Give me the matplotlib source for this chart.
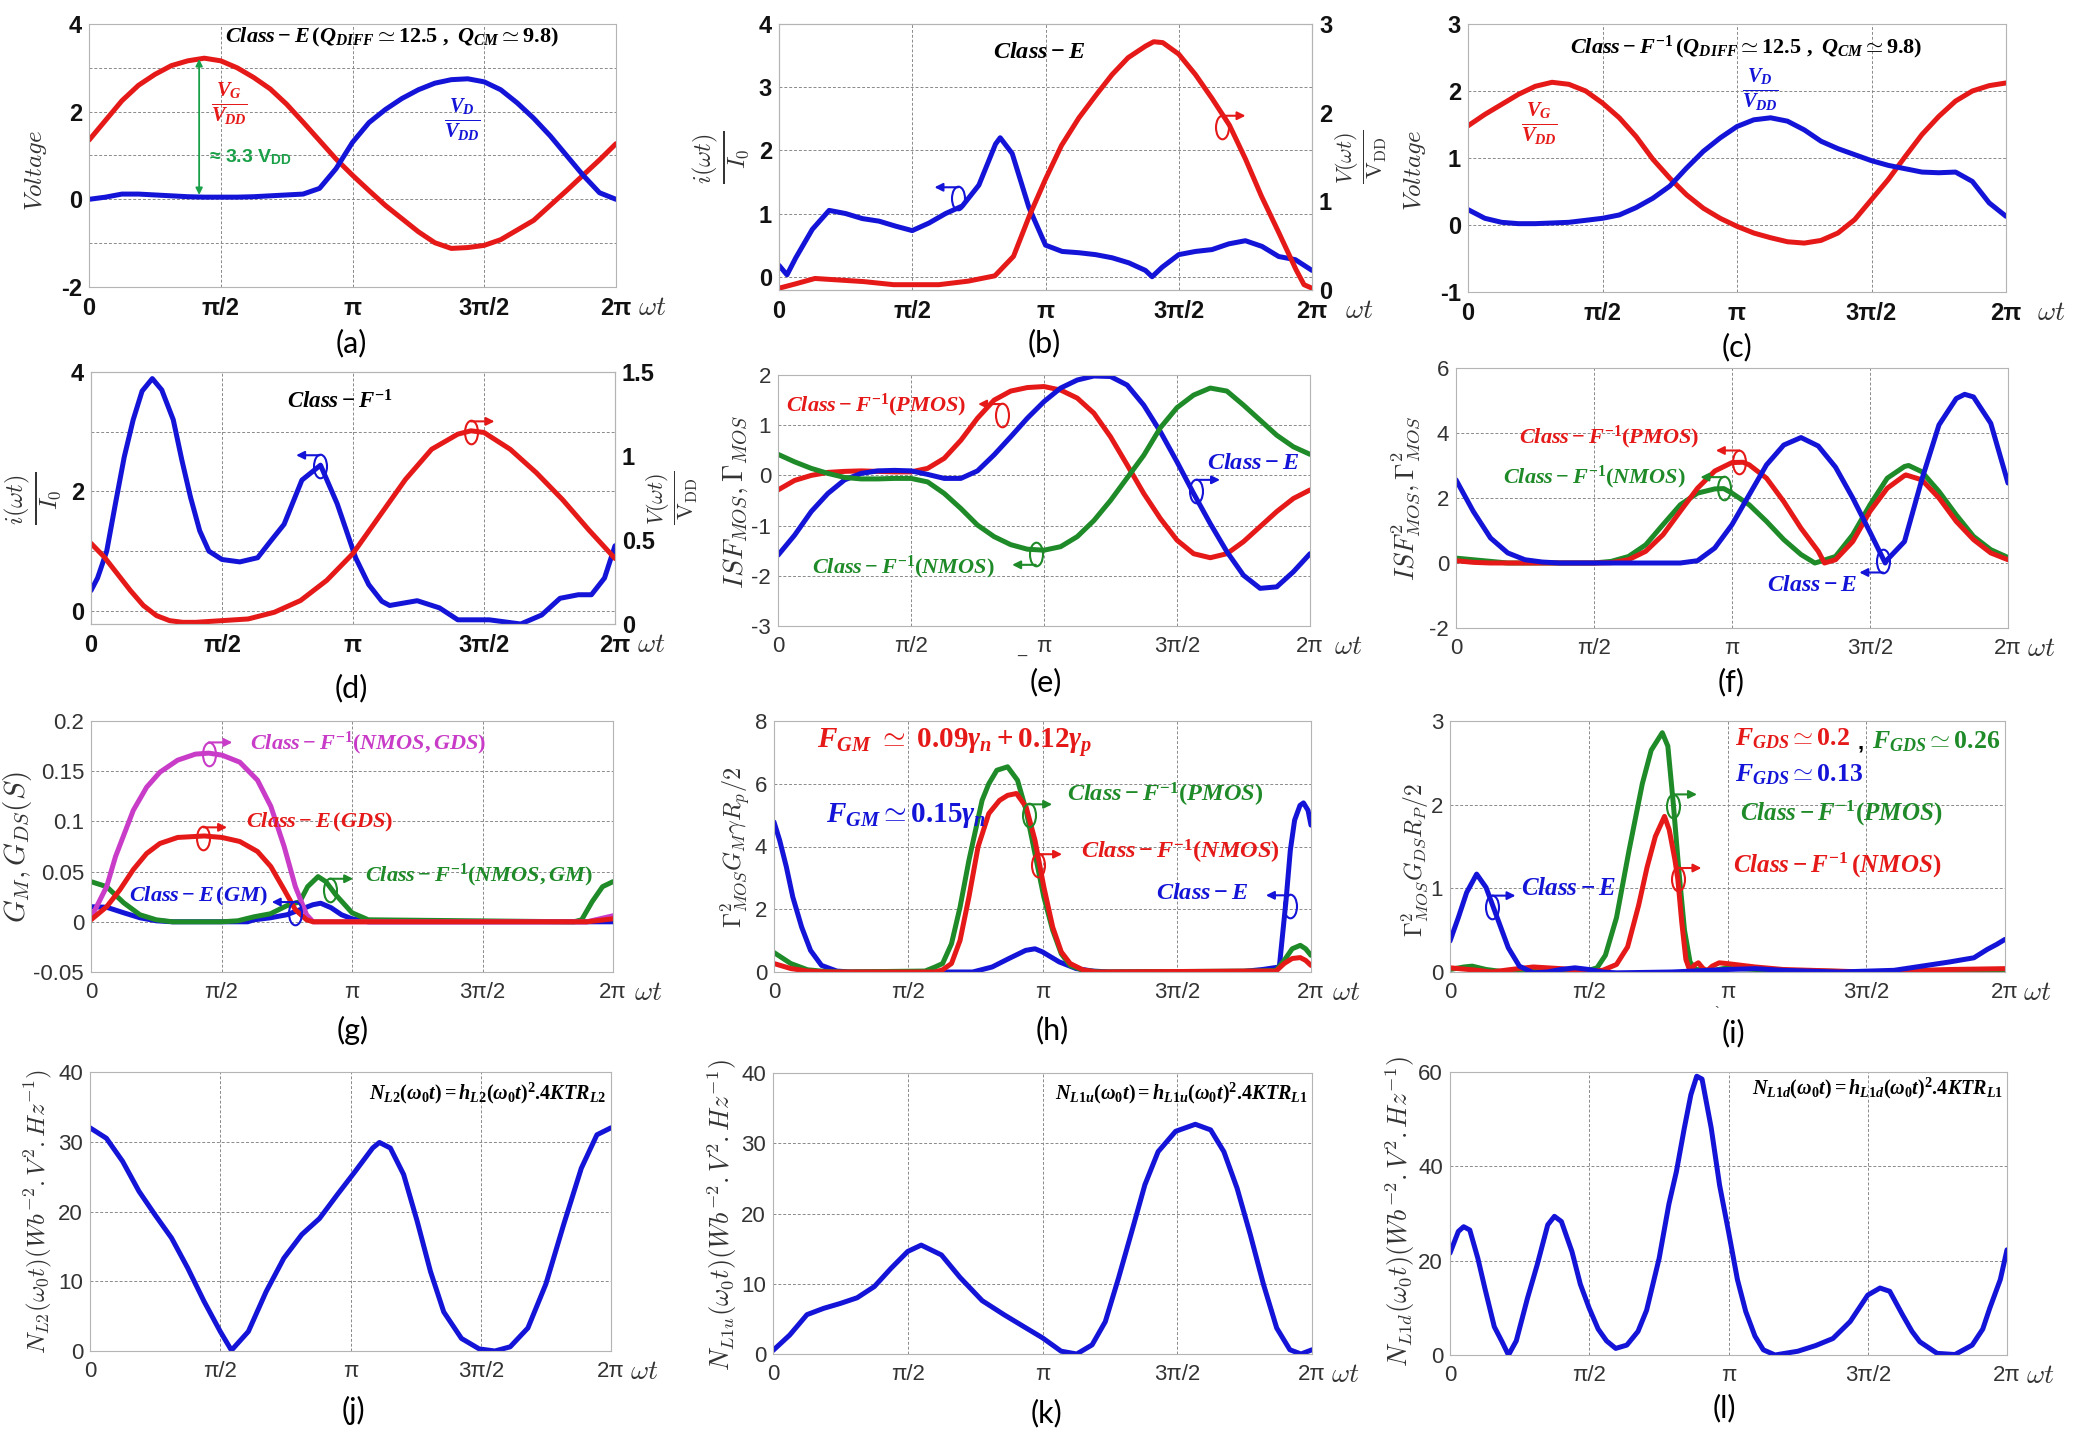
import numpy as np
import matplotlib.pyplot as plt
from matplotlib.path import Path
from matplotlib.transforms import Affine2D, offset_copy

plt.rcParams['font.family'] = ['Liberation Sans', 'DejaVu Sans']
plt.rcParams['mathtext.fontset'] = 'custom'
plt.rcParams['mathtext.rm'] = 'Liberation Serif:bold'
plt.rcParams['mathtext.it'] = 'Liberation Serif:italic:bold'
plt.rcParams['mathtext.bf'] = 'Liberation Serif:bold'

RED = '#e61919'
BLUE = '#1414d8'
GREEN = '#1e8a28'
MAG = '#c83cc8'

# x positions are in units of pi (0 .. 2pi)
G33 = np.linspace(0, 2, 33)

# (a) class-E voltages
a_vg = [1.35, 1.8, 2.25, 2.6, 2.85, 3.05, 3.16, 3.22, 3.16, 3.0, 2.78, 2.52, 2.17, 1.76, 1.34, 0.92, 0.55,
        0.2, -0.14, -0.44, -0.74, -0.99, -1.12, -1.1, -1.05, -0.92, -0.7, -0.48, -0.14, 0.2, 0.55, 0.9, 1.27]
a_vd = [0.0, 0.05, 0.12, 0.12, 0.1, 0.08, 0.06, 0.05, 0.05, 0.05, 0.06, 0.08, 0.1, 0.12, 0.25, 0.7, 1.3,
        1.75, 2.05, 2.3, 2.5, 2.65, 2.73, 2.75, 2.68, 2.5, 2.2, 1.85, 1.45, 1.0, 0.55, 0.15, 0.0]

# (b) class-E current / voltage
b_i_x = [0, .03, .063, .125, .188, .25, .313, .375, .438, .5, .563, .625, .688, .75, .8125, .83, .875, .9375,
         1.0, 1.0625, 1.125, 1.1875, 1.25, 1.3125, 1.375, 1.4, 1.4375, 1.5, 1.5625, 1.625, 1.6875, 1.75,
         1.8125, 1.875, 1.9375, 2.0]
b_i = [0.18, 0.03, 0.3, 0.75, 1.05, 1.0, 0.92, 0.88, 0.8, 0.73, 0.85, 1.0, 1.12, 1.45, 2.1, 2.2, 1.95, 1.1,
       0.5, 0.4, 0.38, 0.35, 0.3, 0.22, 0.1, 0.0, 0.15, 0.35, 0.4, 0.43, 0.52, 0.57, 0.48, 0.32, 0.27, 0.1]
b_v_x = [0, .063, .135, .317, .43, .6, .71, .81, .88, .94, 1.0, 1.06, 1.125, 1.19, 1.25, 1.31, 1.375, 1.406,
         1.44, 1.5, 1.5625, 1.625, 1.69, 1.75, 1.81, 1.875, 1.94, 1.97, 2.0]
b_v = [0.02, 0.07, 0.13, 0.095, 0.06, 0.06, 0.1, 0.16, 0.38, 0.84, 1.25, 1.63, 1.94, 2.2, 2.43, 2.62, 2.75,
       2.8, 2.79, 2.66, 2.43, 2.16, 1.86, 1.48, 1.06, 0.65, 0.23, 0.06, 0.02]

# (c) class-F^-1 voltages
c_vg = [1.48, 1.65, 1.8, 1.95, 2.07, 2.13, 2.1, 2.0, 1.82, 1.6, 1.32, 0.98, 0.7, 0.45, 0.25, 0.1, -0.02,
        -0.12, -0.19, -0.25, -0.27, -0.23, -0.12, 0.08, 0.38, 0.68, 1.02, 1.35, 1.62, 1.85, 2.0, 2.08, 2.12]
c_vd = [0.23, 0.1, 0.04, 0.02, 0.02, 0.03, 0.04, 0.07, 0.1, 0.15, 0.26, 0.4, 0.58, 0.85, 1.1, 1.3, 1.47,
        1.57, 1.6, 1.55, 1.42, 1.25, 1.14, 1.05, 0.96, 0.89, 0.84, 0.79, 0.78, 0.79, 0.65, 0.33, 0.13]

# (d) class-F^-1 current / voltage
d_i_x = [0, .025, .06, .093, .127, .161, .195, .234, .27, .314, .347, .38, .415, .45, .5, .568, .636, .686,
         .737, .805, .876, .94, 1.01, 1.06, 1.11, 1.14, 1.245, 1.33, 1.4, 1.52, 1.64, 1.72, 1.79, 1.86, 1.91,
         1.96, 2.0]
d_i = [0.34, 0.55, 1.0, 1.79, 2.58, 3.2, 3.68, 3.89, 3.7, 3.2, 2.52, 1.9, 1.34, 1.0, 0.86, 0.82, 0.89, 1.17,
       1.45, 2.19, 2.44, 1.79, 0.89, 0.44, 0.16, 0.09, 0.17, 0.05, -0.15, -0.15, -0.22, -0.07, 0.21, 0.27,
       0.27, 0.55, 1.09]
d_v_x = [0, .05, .1, .15, .2, .25, .3, .35, .4, .5, .6, .7, .8, .9, 1.0, 1.1, 1.2, 1.3, 1.4, 1.45, 1.5, 1.6,
         1.7, 1.8, 1.9, 2.0]
d_v = [0.48, 0.4, 0.3, 0.2, 0.11, 0.05, 0.02, 0.01, 0.01, 0.02, 0.03, 0.07, 0.14, 0.26, 0.42, 0.64, 0.86, 1.04,
       1.13, 1.15, 1.14, 1.04, 0.9, 0.74, 0.56, 0.39]

# (e) ISF
e_pmos = [-0.29, -0.1, 0.0, 0.06, 0.08, 0.09, 0.08, 0.07, 0.07, 0.14, 0.34, 0.7, 1.14, 1.5, 1.68, 1.75, 1.77,
          1.7, 1.54, 1.24, 0.77, 0.21, -0.36, -0.86, -1.29, -1.56, -1.64, -1.56, -1.32, -1.02, -0.72, -0.46, -0.29]
e_cle = [-1.59, -1.19, -0.72, -0.36, -0.09, 0.04, 0.09, 0.1, 0.09, 0.02, -0.06, -0.06, 0.09, 0.41, 0.77, 1.14,
         1.47, 1.74, 1.9, 1.98, 1.97, 1.8, 1.4, 0.87, 0.27, -0.36, -0.96, -1.52, -1.99, -2.25, -2.22, -1.92, -1.56]
e_nmos = [0.42, 0.27, 0.14, 0.04, -0.04, -0.07, -0.07, -0.06, -0.06, -0.13, -0.36, -0.66, -0.99, -1.22, -1.38,
          -1.47, -1.49, -1.42, -1.22, -0.9, -0.5, -0.05, 0.4, 0.95, 1.35, 1.6, 1.74, 1.68, 1.4, 1.1, 0.8, 0.57, 0.42]

# (f) ISF^2 (grid values plus a few extra read points at extrema)
f_cle = [2.56, 1.59, 0.77, 0.31, 0.1, 0.03, 0, 0, 0, 0, 0, 0, 0, 0, 0.07, 0.46, 1.18, 2.1, 3.02, 3.63, 3.86,
         3.6, 2.95, 2.0, 0.95, 0.1, 0.66, 2.56, 4.25, 5.06, 5.11, 4.3, 2.46]
f_cle_extra = [(1.555, 0.0), (1.843, 5.19)]
f_pmos = [0.07, 0.02, 0, 0, 0, 0, 0, 0, 0, 0.01, 0.1, 0.36, 0.87, 1.59, 2.3, 2.83, 3.09, 3.02, 2.61, 1.89,
          1.07, 0.36, 0.1, 0.66, 1.59, 2.3, 2.69, 2.56, 2.0, 1.28, 0.72, 0.31, 0.1]
f_pmos_extra = [(1.04, 3.1), (1.335, 0.0), (1.63, 2.71)]
f_nmos = [0.15, 0.1, 0.05, 0, 0, 0, 0, 0, 0, 0.05, 0.2, 0.56, 1.18, 1.79, 2.15, 2.28, 2.15, 1.79, 1.28, 0.72,
          0.26, 0.03, 0.2, 0.87, 1.79, 2.61, 2.97, 2.81, 2.2, 1.48, 0.82, 0.41, 0.17]
f_nmos_extra = [(0.97, 2.29), (1.3, 0.0), (1.64, 3.0)]

# (g) conductances
g_gds_f_x = [0, .06, .094, .128, .162, .213, .264, .332, .4, .451, .502, .57, .638, .689, .74, .783, .826,
             .851, 1.9, 1.95, 2.0]
g_gds_f = [0.004, 0.035, 0.065, 0.088, 0.111, 0.134, 0.149, 0.161, 0.167, 0.168, 0.166, 0.159, 0.141, 0.115,
           0.075, 0.035, 0.007, 0.0, 0.0, 0.003, 0.006]
g_gds_e_x = [0, .06, .111, .162, .213, .264, .332, .434, .502, .57, .638, .689, .74, .783, .826, .851, 1.9, 2.0]
g_gds_e = [0.002, 0.015, 0.032, 0.052, 0.068, 0.078, 0.084, 0.0855, 0.084, 0.08, 0.07, 0.055, 0.032, 0.012,
           0.002, 0.0, 0.0, 0.003]
g_gm_f_x = [0, .06, .125, .1875, .25, .3125, .5, .5625, .625, .6875, .75, .8, .83, .87, .9, .9375, 1.0, 1.0625,
            1.85, 1.88, 1.92, 1.96, 2.0]
g_gm_f = [0.04, 0.035, 0.019, 0.007, 0.002, 0, 0, 0.001, 0.005, 0.008, 0.016, 0.02, 0.035, 0.045, 0.04, 0.027,
          0.009, 0.002, 0, 0.002, 0.02, 0.035, 0.04]
g_gm_e_x = [0, .06, .125, .1875, .25, .3125, .6, .625, .6875, .75, .8, .85, .88, .92, .96, 1.0, 1.0625, 2.0]
g_gm_e = [0.015, 0.0145, 0.009, 0.004, 0.001, 0, 0, 0.002, 0.004, 0.007, 0.012, 0.017, 0.0185, 0.014, 0.007,
          0.003, 0, 0]

# (h) GM noise
h_e_x = [0, .021, .046, .07, .103, .136, .177, .234, .284, .74, .8125, .875, .9375, .972, 1.0, 1.0625, 1.125,
         1.1875, 1.25, 1.75, 1.82, 1.882, 1.907, 1.923, 1.939, 1.959, 1.972, 1.989, 2.0]
h_e = [4.78, 4.2, 3.35, 2.39, 1.43, 0.69, 0.21, 0.03, 0, 0, 0.16, 0.43, 0.69, 0.74, 0.64, 0.32, 0.11, 0.03, 0,
       0.02, 0.08, 0.16, 2.28, 3.88, 4.84, 5.31, 5.39, 5.15, 4.68]
h_p_x = [0, .0625, .125, .1875, .25, .5625, .6, .628, .661, .693, .726, .775, .8, .83, .87, .907, .939, .972,
         1.005, 1.038, 1.07, 1.103, 1.152, 1.218, 1.8, 1.87, 1.9, 1.93, 1.96, 1.98, 2.0]
h_p = [0.62, 0.27, 0.07, 0.02, 0, 0.03, 0.16, 0.27, 0.9, 2.07, 3.56, 5.47, 6.0, 6.43, 6.54, 6.11, 5.15, 3.77,
       2.39, 1.33, 0.58, 0.21, 0.05, 0, 0.03, 0.05, 0.37, 0.74, 0.85, 0.74, 0.53]
h_n_x = [0, .0625, .125, .2, .6, .628, .661, .693, .726, .76, .8, .84, .87, .903, .939, .972, 1.005, 1.038,
         1.07, 1.103, 1.15, 1.2, 1.8, 1.87, 1.9, 1.93, 1.96, 1.98, 2.0]
h_n = [0.27, 0.11, 0.03, 0, 0, 0.07, 0.27, 1.01, 2.39, 3.99, 5.05, 5.47, 5.63, 5.69, 5.26, 4.2, 2.71, 1.43,
       0.64, 0.27, 0.07, 0, 0.03, 0.03, 0.27, 0.43, 0.46, 0.37, 0.21]

# (i) GDS noise
i_p_x = [0, .05, .08, .13, .2, .3, .4, .5, .53, .56, .6, .645, .693, .725, .765, .785, .805, .825, .845, .865,
         .885, .95, 1.0, 1.1, 1.2, 1.5, 2.0]
i_p = [0.03, 0.06, 0.07, 0.03, 0, 0.01, 0.02, 0.02, 0.05, 0.2, 0.65, 1.45, 2.25, 2.65, 2.86, 2.7, 2.0, 1.2,
       0.5, 0.12, 0.03, 0.02, 0.05, 0.03, 0.02, 0.0, 0.03]
i_n_x = [0, .1, .15, .22, .3, .4, .5, .55, .6, .64, .68, .71, .74, .773, .79, .81, .821, .835, .85, .865, .88,
         .895, .91, .925, .945, .97, 1.0, 1.05, 1.1, 1.2, 1.5, 1.8, 2.0]
i_n = [0.05, 0.02, 0.0, 0.03, 0.06, 0.04, 0.01, 0.02, 0.09, 0.3, 0.8, 1.25, 1.62, 1.86, 1.7, 1.35, 1.11, 0.6,
       0.15, 0.01, 0.08, 0.11, 0.05, 0.01, 0.07, 0.11, 0.1, 0.08, 0.06, 0.03, 0.0, 0.03, 0.04]
i_e_x = [0, .03, .06, .096, .13, .17, .21, .25, .3, .35, .4, .45, .5, .55, .6, .8, 1.0, 1.1, 1.2, 1.4, 1.6,
         1.7, 1.8, 1.888, 1.936, 1.97, 2.0]
i_e = [0.37, 0.65, 0.95, 1.17, 1.01, 0.65, 0.29, 0.07, -0.01, 0.0, 0.03, 0.05, 0.03, 0.0, -0.01, 0.0, 0.03,
       0.04, 0.02, 0.0, 0.02, 0.07, 0.12, 0.17, 0.27, 0.33, 0.39]

# (j), (k), (l) inductor noise
j_x = [0, .063, .125, .188, .25, .313, .375, .438, .5, .543, .608, .676, .744, .813, .881, .949, 1.017, 1.085,
       1.111, 1.153, 1.204, 1.256, 1.307, 1.358, 1.426, 1.494, 1.554, 1.613, 1.681, 1.75, 1.818, 1.886, 1.946, 2.0]
j_y = [32, 30.5, 27.2, 22.9, 19.5, 16.2, 11.9, 7.1, 2.8, 0.1, 2.8, 8.5, 13.3, 16.7, 19.0, 22.4, 25.7, 29.1,
       29.9, 29.1, 25.3, 18.6, 11.4, 5.6, 1.8, 0.3, 0.0, 0.6, 3.3, 9.6, 18.1, 26.2, 31.0, 32.0]
k_x = [0, .062, .126, .188, .25, .312, .376, .438, .5, .55, .625, .694, .776, .857, .939, 1.0, 1.069, 1.127,
       1.184, 1.233, 1.282, 1.331, 1.38, 1.429, 1.494, 1.567, 1.624, 1.673, 1.722, 1.771, 1.82, 1.869, 1.918,
       1.959, 2.0]
k_y = [0.5, 2.7, 5.6, 6.5, 7.2, 8.0, 9.6, 12.2, 14.6, 15.5, 14.1, 10.9, 7.6, 5.6, 3.7, 2.3, 0.4, 0.0, 1.3, 4.6,
       10.8, 17.4, 24.1, 28.8, 31.7, 32.7, 31.9, 28.8, 23.6, 17.0, 9.9, 3.7, 0.6, 0.0, 0.6]
l_x = [0, .03, .049, .071, .1, .125, .159, .187, .21, .238, .278, .313, .351, .375, .4, .438, .468, .5, .532,
       .562, .595, .635, .675, .706, .751, .786, .813, .841, .865, .886, .905, .938, .968, 1.0, 1.032, 1.062,
       1.095, 1.125, 1.167, 1.249, 1.313, 1.375, 1.437, 1.5, 1.544, 1.579, 1.625, 1.659, 1.687, 1.749, 1.813,
       1.875, 1.913, 1.938, 1.976, 2.0]
l_y = [21.6, 26.2, 27.2, 26.5, 20.5, 14.2, 6.0, 2.8, 0.0, 3.0, 12.0, 19.1, 27.6, 29.4, 28.3, 21.9, 15.0, 9.9,
       5.5, 3.0, 1.4, 2.1, 5.0, 9.5, 20.5, 32.0, 38.9, 48.0, 55.2, 59.1, 58.5, 48.1, 36.0, 26.2, 16.0, 9.2, 4.0,
       1.1, 0.0, 0.8, 2.0, 3.5, 7.1, 12.7, 14.2, 13.5, 8.5, 5.0, 2.8, 0.35, 0.1, 2.1, 5.5, 9.9, 16.0, 22.3]

XT = [0, .5, 1, 1.5, 2]
XL = ['0', 'π/2', 'π', '3π/2', '2π']

W, H = 2079, 1448
fig = plt.figure(figsize=(W / 100, H / 100), dpi=100)
ELL = Path.unit_circle().transformed(Affine2D().scale(0.55, 1.0))


def merged(grid_y, extra):
    pts = sorted(list(zip(G33, grid_y)) + list(extra))
    return [p[0] for p in pts], [p[1] for p in pts]


def panel(box, ylim, yt, yl, bold, wt_dx):
    l, t, r, b = box
    ax = fig.add_axes([l / W, 1 - b / H, (r - l) / W, (b - t) / H])
    ax.set_xlim(0, 2)
    ax.set_ylim(*ylim)
    ax.set_xticks(XT, XL)
    ax.set_yticks(yt, yl)
    ax.grid(True, color='#8a8a8a', lw=0.7, ls=(0, (3, 2)))
    ax.set_axisbelow(True)
    fs = 17 if bold else 16
    ax.tick_params(axis='x', length=0, labelsize=fs, pad=7)
    ax.tick_params(axis='y', length=0, labelsize=fs, pad=5)
    col = '#111111' if bold else '#333333'
    for lab in ax.get_xticklabels() + ax.get_yticklabels():
        lab.set_fontweight('bold' if bold else 'normal')
        lab.set_color(col)
    for s in ax.spines.values():
        s.set_color('#b4b4b4')
    ax.annotate(r'$\omega t$', xy=(1, 0), xycoords='axes fraction', xytext=(wt_dx, -6),
                textcoords='offset points', ha='left', va='top', fontsize=20,
                math_fontfamily='cm', color='#333333')
    return ax


def right_axis(ax, ylim, yt):
    a2 = ax.twinx()
    a2.set_ylim(*ylim)
    a2.set_yticks(yt, [str(v) for v in yt])
    a2.tick_params(length=0, labelsize=17, pad=5)
    for lab in a2.get_yticklabels():
        lab.set_fontweight('bold')
        lab.set_color('#111111')
    for s in a2.spines.values():
        s.set_color('#b4b4b4')
    return a2


def line(ax, x, y, c, lw=3.6):
    ax.plot(x, y, color=c, lw=lw, solid_joinstyle='round', solid_capstyle='round')


def mark(ax, x, y, c, dx, dy):
    ax.plot([x], [y], marker=ELL, ms=17, mfc='none', mec=c, mew=1.5, zorder=5)
    tr0 = offset_copy(ax.transData, fig=fig, x=0, y=dy, units='points')
    tr1 = offset_copy(ax.transData, fig=fig, x=dx, y=dy, units='points')
    ax.annotate('', xy=(x, y), xycoords=tr1, xytext=(x, y), textcoords=tr0,
                arrowprops=dict(arrowstyle='-|>', color=c, lw=1.5, mutation_scale=12,
                                shrinkA=0, shrinkB=0))


def ftext(x, y, s, c='black', size=14, ha='center', **kw):
    fig.text(x / W, 1 - y / H, s, color=c, fontsize=size, ha=ha, va='center', **kw)


def ylab(x, y, s, size=16):
    fig.text(x / W, 1 - y / H, s, rotation=90, ha='center', va='center', fontsize=size,
             math_fontfamily='cm', color='#333333')


CF = r'$Class-F^{-1}'
L, R = 17, -17

# ---------- (a)
ax = panel((89, 24, 616, 287), (-2, 4), [-2, -1, 0, 1, 2, 3, 4], ['-2', '', '0', '', '2', '', '4'], True, 16)
line(ax, G33, a_vg, RED)
line(ax, G33, a_vd, BLUE)
ax.annotate('', xy=(0.418, 3.2), xytext=(0.418, 0.1),
            arrowprops=dict(arrowstyle='<|-|>', color='#1aa048', lw=1.3, mutation_scale=10, shrinkA=0, shrinkB=0))
ftext(250, 157, '≈ 3.3 V$_{\\mathregular{DD}}$', c='#1aa048', size=14, fontweight='bold')
ftext(392, 37, r'$Class-E\,(Q_{DIFF}\simeq 12.5\ ,\ Q_{CM}\simeq 9.8)$', size=16)
ftext(229, 104, r'$\frac{V_G}{V_{DD}}$', c=RED, size=21)
ftext(462, 120, r'$\frac{V_D}{V_{DD}}$', c=BLUE, size=21)
ylab(36, 170, r'$Voltage$', 18)

# ---------- (b)
ax = panel((779, 24, 1312, 290), (-0.21, 4), [0, 1, 2, 3, 4], ['0', '1', '2', '3', '4'], True, 24)
ax2 = right_axis(ax, (0, 3), [0, 1, 2, 3])
line(ax, b_i_x, b_i, BLUE)
line(ax2, b_v_x, b_v, RED)
mark(ax, 0.672, 1.24, BLUE, R, 8)
mark(ax2, 1.662, 1.84, RED, L, 8)
ftext(1039, 52, r'$Class-E$', size=17.5)
ylab(722, 157, r'$\frac{i(\omega t)}{I_0}$', 25)
ylab(1362, 157, r'$\frac{V(\omega t)}{\mathrm{V_{DD}}}$', 23)

# ---------- (c)
ax = panel((1468, 24, 2006, 292), (-1, 3), [-1, 0, 1, 2, 3], ['-1', '0', '1', '2', '3'], True, 22)
line(ax, G33, c_vg, RED)
line(ax, G33, c_vd, BLUE)
ftext(1746, 47, CF + r'\,(Q_{DIFF}\simeq 12.5\ ,\ Q_{CM}\simeq 9.8)$', size=16)
ftext(1539, 124, r'$\frac{V_G}{V_{DD}}$', c=RED, size=21)
ftext(1760, 90, r'$\frac{V_D}{V_{DD}}$', c=BLUE, size=21)
ylab(1415, 170, r'$Voltage$', 18)

# ---------- (d)
ax = panel((91, 372, 615, 624), (-0.22, 4), [0, 1, 2, 3, 4], ['0', '', '2', '', '4'], True, 16)
ax2 = right_axis(ax, (0, 1.5), [0, 0.5, 1, 1.5])
line(ax, d_i_x, d_i, BLUE)
line(ax2, d_v_x, d_v, RED)
mark(ax, 0.873, 2.42, BLUE, R, 8)
mark(ax2, 1.45, 1.14, RED, L, 8)
ftext(340, 402, CF + '$', size=16.5)
ylab(34, 498, r'$\frac{i(\omega t)}{I_0}$', 25)
ylab(673, 498, r'$\frac{V(\omega t)}{\mathrm{V_{DD}}}$', 23)

# ---------- (e)
ax = panel((778, 375, 1310, 626), (-3, 2), [-3, -2, -1, 0, 1, 2], ['-3', '-2', '-1', '0', '1', '2'], False, 17)
line(ax, G33, e_pmos, RED)
line(ax, G33, e_cle, BLUE)
line(ax, G33, e_nmos, GREEN)
mark(ax, 0.841, 1.2, RED, R, 8)
mark(ax, 0.969, -1.56, GREEN, R, -8)
mark(ax, 1.573, -0.31, BLUE, L, 8)
ftext(876, 405, CF + r'(PMOS)$', c=RED, size=16)
ftext(903, 567, CF + r'(NMOS)$', c=GREEN, size=16)
ftext(1253, 463, r'$Class-E$', c=BLUE, size=17.5)
ylab(736, 502, r'$ISF_{MOS},\Gamma_{MOS}$', 20)
ftext(1022, 664, '¯', c='#333333', size=12)

# ---------- (f)
ax = panel((1456, 368, 2008, 628), (-2, 6), [-2, 0, 2, 4, 6], ['-2', '0', '2', '4', '6'], False, 14)
line(ax, *merged(f_nmos, f_nmos_extra), GREEN)
line(ax, *merged(f_pmos, f_pmos_extra), RED)
line(ax, *merged(f_cle, f_cle_extra), BLUE)
mark(ax, 1.027, 3.12, RED, R, 8)
mark(ax, 0.971, 2.3, GREEN, R, 8)
mark(ax, 1.547, 0.05, BLUE, R, -8)
ftext(1609, 437, CF + r'(PMOS)$', c=RED, size=16)
ftext(1594, 477, CF + r'(NMOS)$', c=GREEN, size=16)
ftext(1812, 585, r'$Class-E$', c=BLUE, size=17)
ylab(1406, 498, r'$ISF^2_{MOS},\Gamma^2_{MOS}$', 19)

# ---------- (g)
ax = panel((91, 721, 613, 972), (-0.05, 0.2), [-0.05, 0, 0.05, 0.1, 0.15, 0.2],
           ['-0.05', '0', '0.05', '0.1', '0.15', '0.2'], False, 15)
line(ax, g_gm_e_x, g_gm_e, BLUE)
line(ax, g_gm_f_x, g_gm_f, GREEN)
line(ax, g_gds_f_x, g_gds_f, MAG)
line(ax, g_gds_e_x, g_gds_e, RED)
mark(ax, 0.451, 0.1676, MAG, L, 8)
mark(ax, 0.431, 0.083, RED, L, 8)
mark(ax, 0.914, 0.0318, GREEN, L, 8)
mark(ax, 0.783, 0.0086, BLUE, R, 8)
ftext(368, 743, CF + r'(NMOS,GDS)$', c=MAG, size=16)
ftext(320, 822, r'$Class-E\,(GDS)$', c=RED, size=16)
ftext(479, 875, CF + r'(NMOS,GM)$', c=GREEN, size=16)
ftext(198, 896, r'$Class-E\,(GM)$', c=BLUE, size=16)
ylab(17, 847, r'$G_M,G_{DS}(S)$', 21)

# ---------- (h)
ax = panel((774, 721, 1311, 972), (0, 8), [0, 2, 4, 6, 8], ['0', '2', '4', '6', '8'], False, 15)
line(ax, h_e_x, h_e, BLUE)
line(ax, h_p_x, h_p, GREEN)
line(ax, h_n_x, h_n, RED)
mark(ax, 0.948, 4.99, GREEN, L, 8)
mark(ax, 0.985, 3.4, RED, L, 8)
mark(ax, 1.92, 2.09, BLUE, R, 8)
ftext(817, 742, r'$F_{GM}\ \simeq\ 0.09\gamma_n+0.12\gamma_p$', c=RED, size=21, ha='left')
ftext(826, 815, r'$F_{GM}\simeq 0.15\gamma_n$', c=BLUE, size=21, ha='left')
ftext(1165, 795, CF + r'(PMOS)$', c=GREEN, size=17.5)
ftext(1180, 852, CF + r'(NMOS)$', c=RED, size=17.5)
ftext(1202, 893, r'$Class-E$', c=BLUE, size=17.5)
ylab(736, 847, r'$\Gamma^2_{MOS}G_M\gamma R_p/2$', 17.5)

# ---------- (i)
ax = panel((1450, 721, 2005, 972), (0, 3), [0, 1, 2, 3], ['0', '1', '2', '3'], False, 13)
line(ax, i_p_x, i_p, GREEN)
line(ax, i_n_x, i_n, RED)
line(ax, i_e_x, i_e, BLUE)
mark(ax, 0.805, 1.99, GREEN, L, 8)
mark(ax, 0.821, 1.11, RED, L, 8)
mark(ax, 0.151, 0.78, BLUE, L, 8)
ftext(1735, 739, r'$F_{GDS}\simeq 0.2$', c=RED, size=18.5, ha='left')
ftext(1861, 743, ',', size=16, fontweight='bold')
ftext(1872, 742, r'$F_{GDS}\simeq 0.26$', c=GREEN, size=18.5, ha='left')
ftext(1735, 775, r'$F_{GDS}\simeq 0.13$', c=BLUE, size=18.5, ha='left')
ftext(1841, 813, CF + r'(PMOS)$', c=GREEN, size=18)
ftext(1837, 865, CF + r'\,(NMOS)$', c=RED, size=18)
ftext(1569, 888, r'$Class-E$', c=BLUE, size=18)
ylab(1415, 860, r'$\Gamma^2_{MOS}G_{DS}R_P/2$', 17)
ftext(1717, 1013, '`', c='#333333', size=10)

# ---------- (j), (k), (l)
NL = r'(Wb^{-2}.V^2.Hz^{-1})$'
ax = panel((90, 1072, 611, 1351), (0, 40), [0, 10, 20, 30, 40], ['0', '10', '20', '30', '40'], False, 14)
line(ax, j_x, j_y, BLUE)
ftext(606, 1093, r'$N_{L2}(\omega_0t)=h_{L2}(\omega_0t)^2.4KTR_{L2}$', size=14.5, ha='right')
ylab(38, 1212, r'$N_{L2}(\omega_0t)' + NL, 18)

ax = panel((773, 1073, 1312, 1354), (0, 40), [0, 10, 20, 30, 40], ['0', '10', '20', '30', '40'], False, 14)
line(ax, k_x, k_y, BLUE)
ftext(1308, 1093, r'$N_{L1u}(\omega_0t)=h_{L1u}(\omega_0t)^2.4KTR_{L1}$', size=14.5, ha='right')
ylab(722, 1215, r'$N_{L1u}(\omega_0t)' + NL, 19)

ax = panel((1450, 1072, 2007, 1355), (0, 60), [0, 20, 40, 60], ['0', '20', '40', '60'], False, 14)
line(ax, l_x, l_y, BLUE)
ftext(2003, 1088, r'$N_{L1d}(\omega_0t)=h_{L1d}(\omega_0t)^2.4KTR_{L1}$', size=14.5, ha='right')
ylab(1400, 1212, r'$N_{L1d}(\omega_0t)' + NL, 19)

# panel letters
for s, x, y in [('(a)', 351, 343), ('(b)', 1044, 343), ('(c)', 1737, 347), ('(d)', 351, 688),
                ('(e)', 1046, 682), ('(f)', 1731, 682), ('(g)', 353, 1030), ('(h)', 1052, 1030),
                ('(i)', 1733, 1033), ('(j)', 353, 1410), ('(k)', 1046, 1413), ('(l)', 1724, 1408)]:
    ftext(x, y, s, size=22, family=['Lato', 'Open Sans', 'DejaVu Sans'])

fig.savefig('out.png', dpi=100, facecolor='white')
